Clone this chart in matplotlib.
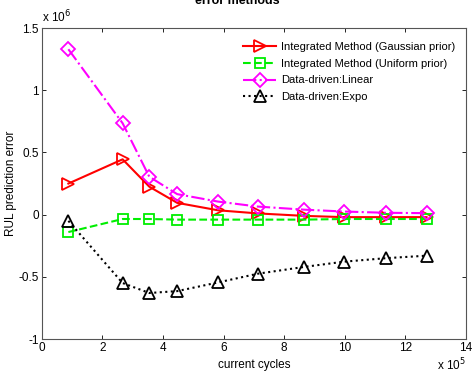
import numpy as np
import matplotlib.pyplot as plt

plt.rcParams['font.family'] = ['Liberation Sans', 'DejaVu Sans']
plt.rcParams['font.size'] = 8.5

# current cycles (x 10^5)
cycles = [0.88, 2.67, 3.55, 4.47, 5.82, 7.13, 8.67, 9.98, 11.36, 12.7]
# RUL prediction error (x 10^6)
gauss = [0.25, 0.445, 0.225, 0.095, 0.035, 0.01, -0.01, -0.02, -0.02, -0.02]
uniform = [-0.14, -0.035, -0.035, -0.04, -0.04, -0.04, -0.04, -0.035, -0.035, -0.035]
linear = [1.33, 0.735, 0.305, 0.165, 0.105, 0.065, 0.04, 0.025, 0.015, 0.012]
expo = [-0.05, -0.55, -0.63, -0.615, -0.545, -0.475, -0.42, -0.378, -0.35, -0.33]

labels = ['Integrated Method (Gaussian prior)', 'Integrated Method (Uniform prior)',
          'Data-driven:Linear', 'Data-driven:Expo']

fig = plt.figure(figsize=(4.74, 3.75), dpi=100)
ax = fig.add_axes([0.088, 0.096, 0.895, 0.829])

ax.plot(cycles, gauss, '-', color='#ff0000', marker='>', ms=8.5, mfc='none', mew=1.3, lw=1.5, label=labels[0])
ax.plot(cycles, uniform, '--', color='#00ee00', marker='s', ms=7, mfc='none', mew=1.3, lw=1.5, label=labels[1])
ax.plot(cycles, linear, '-.', color='#ff00ff', marker='D', ms=7, mfc='none', mew=1.3, lw=1.5, label=labels[2])
ax.plot(cycles, expo, ':', color='k', marker='^', ms=8.5, mfc='none', mew=1.3, lw=1.5, label=labels[3])

ax.set_xlim(0, 14)
ax.set_ylim(-1, 1.5)
ax.set_xticks(np.arange(0, 15, 2))
ax.set_yticks([-1, -0.5, 0, 0.5, 1, 1.5])
ax.set_yticklabels(['-1', '-0.5', '0', '0.5', '1', '1.5'])
ax.tick_params(direction='in', length=3, width=0.6, top=True, right=True, colors='k', pad=2)
for s in ax.spines.values():
    s.set_color('#555555')
    s.set_linewidth(0.8)

ax.set_xlabel('current cycles', labelpad=4)
ax.set_ylabel('RUL prediction error', labelpad=1)

ax.text(0.0, 1.01, r'x 10$^{6}$', transform=ax.transAxes, ha='left', va='bottom')
ax.text(1.0, -0.058, r'x 10$^{5}$', transform=ax.transAxes, ha='right', va='top')

fig.text(0.5, 0.998, 'error methods', ha='center', va='center', fontweight='bold', fontsize=9)

ax.legend(loc='upper right', bbox_to_anchor=(0.995, 0.985), frameon=False, handlelength=3.0,
          handletextpad=0.4, labelspacing=0.62, borderpad=0.3, fontsize=8.0)

fig.savefig('out.png', dpi=100)
